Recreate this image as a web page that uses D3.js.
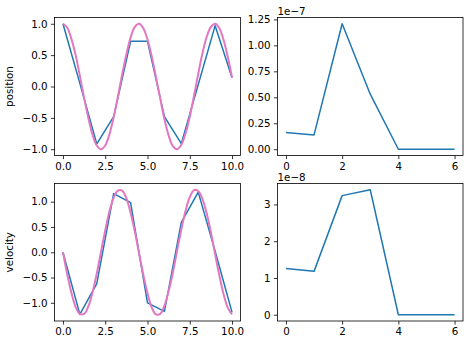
<!DOCTYPE html>
<html><head><meta charset="utf-8">
<script src="https://cdn.jsdelivr.net/npm/d3@7"></script>
<style>body{margin:0;background:#fff}svg{display:block}text{font-family:"DejaVu Sans",sans-serif;fill:#000}</style>
</head><body><svg id="c" width="474" height="346"></svg>
<script>
// coarse simulation samples (t = 0..10)
const simT = [0,1,2,3,4,5,6,7,8,9,10];
const simPos = [1.0,0.05,-0.915,-0.48,0.72,0.72,-0.48,-0.91,0.03,0.97,0.14];
const simVel = [0.0,-1.23,-0.62,1.16,0.98,-1.0,-1.17,0.59,1.19,0.02,-1.19];
// reference curve read every 0.25
const refT = d3.range(41).map(i => i*0.25);
const refPos = [1.0,0.94,0.76,0.50,0.17,-0.18,-0.50,-0.77,-0.94,-1.00,-0.94,-0.76,-0.49,-0.16,0.19,0.51,0.78,0.95,1.00,0.93,0.75,0.48,0.15,-0.19,-0.52,-0.78,-0.95,-1.00,-0.93,-0.75,-0.48,-0.15,0.20,0.53,0.79,0.95,1.00,0.93,0.74,0.47,0.14];
const refVel = [0,-0.43,-0.80,-1.08,-1.22,-1.22,-1.07,-0.79,-0.42,0.01,0.43,0.81,1.08,1.22,1.22,1.07,0.78,0.41,-0.02,-0.44,-0.81,-1.09,-1.23,-1.22,-1.06,-0.77,-0.40,0.03,0.45,0.82,1.09,1.23,1.21,1.05,0.77,0.39,-0.04,-0.46,-0.83,-1.10,-1.23];
// errors
const errX = [0,1,2,3,4,5,6];
const posErr = [0.161,0.138,1.208,0.53,0,0,0]; // x1e-7
const velErr = [1.255,1.18,3.24,3.40,0,0,0];   // x1e-8
const posTicksY = [-1.0,-0.5,0.0,0.5,1.0];
const velTicksY = [-1.0,-0.5,0.0,0.5,1.0];
const tTicks = [0.0,2.5,5.0,7.5,10.0];
const eTicks = [0,2,4,6];
const posErrTicks = [0.00,0.25,0.50,0.75,1.00,1.25];
const velErrTicks = [0,1,2,3];

const svg = d3.select("#c");
const BLUE = "#1f77b4", PINK = "#e377c2";
const FS = 10.3;

function panel(o){
  const g = svg.append("g");
  const x = d3.scaleLinear().domain(o.xd).range([o.x0,o.x1]);
  const y = d3.scaleLinear().domain(o.yd).range([o.y1,o.y0]);
  g.append("defs").append("clipPath").attr("id",o.id).append("rect")
    .attr("x",o.x0).attr("y",o.y0).attr("width",o.x1-o.x0).attr("height",o.y1-o.y0);
  const lines = g.append("g").attr("clip-path",`url(#${o.id})`);
  o.series.forEach(s=>{
    const ln = d3.line().x((d,i)=>x(s.x[i])).y(d=>y(d));
    if(s.curve) ln.curve(s.curve);
    lines.append("path").attr("d",ln(s.y)).attr("fill","none")
      .attr("stroke",s.c).attr("stroke-width",s.w).attr("stroke-linejoin","round").attr("stroke-linecap","butt");
  });
  const xa = g.append("g").attr("transform",`translate(0,${o.y1})`)
    .call(d3.axisBottom(x).tickValues(o.xt).tickFormat(o.xf).tickSize(3.6).tickPadding(3.3));
  const ya = g.append("g").attr("transform",`translate(${o.x0},0)`)
    .call(d3.axisLeft(y).tickValues(o.yt).tickFormat(o.yf).tickSize(3.6).tickPadding(3.3));
  [xa,ya].forEach(a=>{
    a.select(".domain").remove();
    a.selectAll("line").attr("stroke","#000").attr("stroke-width",0.8);
    a.selectAll("text").attr("font-size",FS).attr("font-family","DejaVu Sans").attr("fill","#000");
  });
  g.append("rect").attr("x",o.x0).attr("y",o.y0).attr("width",o.x1-o.x0).attr("height",o.y1-o.y0)
    .attr("fill","none").attr("stroke","#000").attr("stroke-width",0.8);
  if(o.ylabel){
    g.append("text").attr("transform",`translate(13,${(o.y0+o.y1)/2}) rotate(-90)`)
      .attr("text-anchor","middle").attr("font-size",FS).text(o.ylabel);
  }
  if(o.offset){
    g.append("text").attr("x",o.x0).attr("y",o.y0-3).attr("font-size",FS).text(o.offset);
  }
}
const minus = f => (v => f(v).replace("-","\u2212"));
const f1 = minus(d3.format(".1f")), f2 = d3.format(".2f"), f0 = d3.format("d");

const L0=54.5, L1=240.5, R0=277.5, R1=463, T0=17.5, T1=155.5, B0=183.5, B1=321;

panel({id:"p1",x0:L0,x1:L1,y0:T0,y1:T1,xd:[-0.5,10.5],yd:[-1.1,1.1],xt:tTicks,xf:f1,yt:posTicksY,yf:f1,ylabel:"position",
  series:[{x:simT,y:simPos,c:BLUE,w:1.5},{x:refT,y:refPos,c:PINK,w:2,curve:d3.curveCatmullRom}]});
panel({id:"p2",x0:R0,x1:R1,y0:T0,y1:T1,xd:[-0.3,6.3],yd:[-0.0604,1.2684],xt:eTicks,xf:f0,yt:posErrTicks,yf:f2,offset:"1e\u22127",
  series:[{x:errX,y:posErr,c:BLUE,w:1.5}]});
panel({id:"p3",x0:L0,x1:L1,y0:B0,y1:B1,xd:[-0.5,10.5],yd:[-1.36,1.36],xt:tTicks,xf:f1,yt:velTicksY,yf:f1,ylabel:"velocity",
  series:[{x:simT,y:simVel,c:BLUE,w:1.5},{x:refT,y:refVel,c:PINK,w:2,curve:d3.curveCatmullRom}]});
panel({id:"p4",x0:R0,x1:R1,y0:B0,y1:B1,xd:[-0.3,6.3],yd:[-0.17,3.57],xt:eTicks,xf:f0,yt:velErrTicks,yf:f0,offset:"1e\u22128",
  series:[{x:errX,y:velErr,c:BLUE,w:1.5}]});
</script></body></html>
